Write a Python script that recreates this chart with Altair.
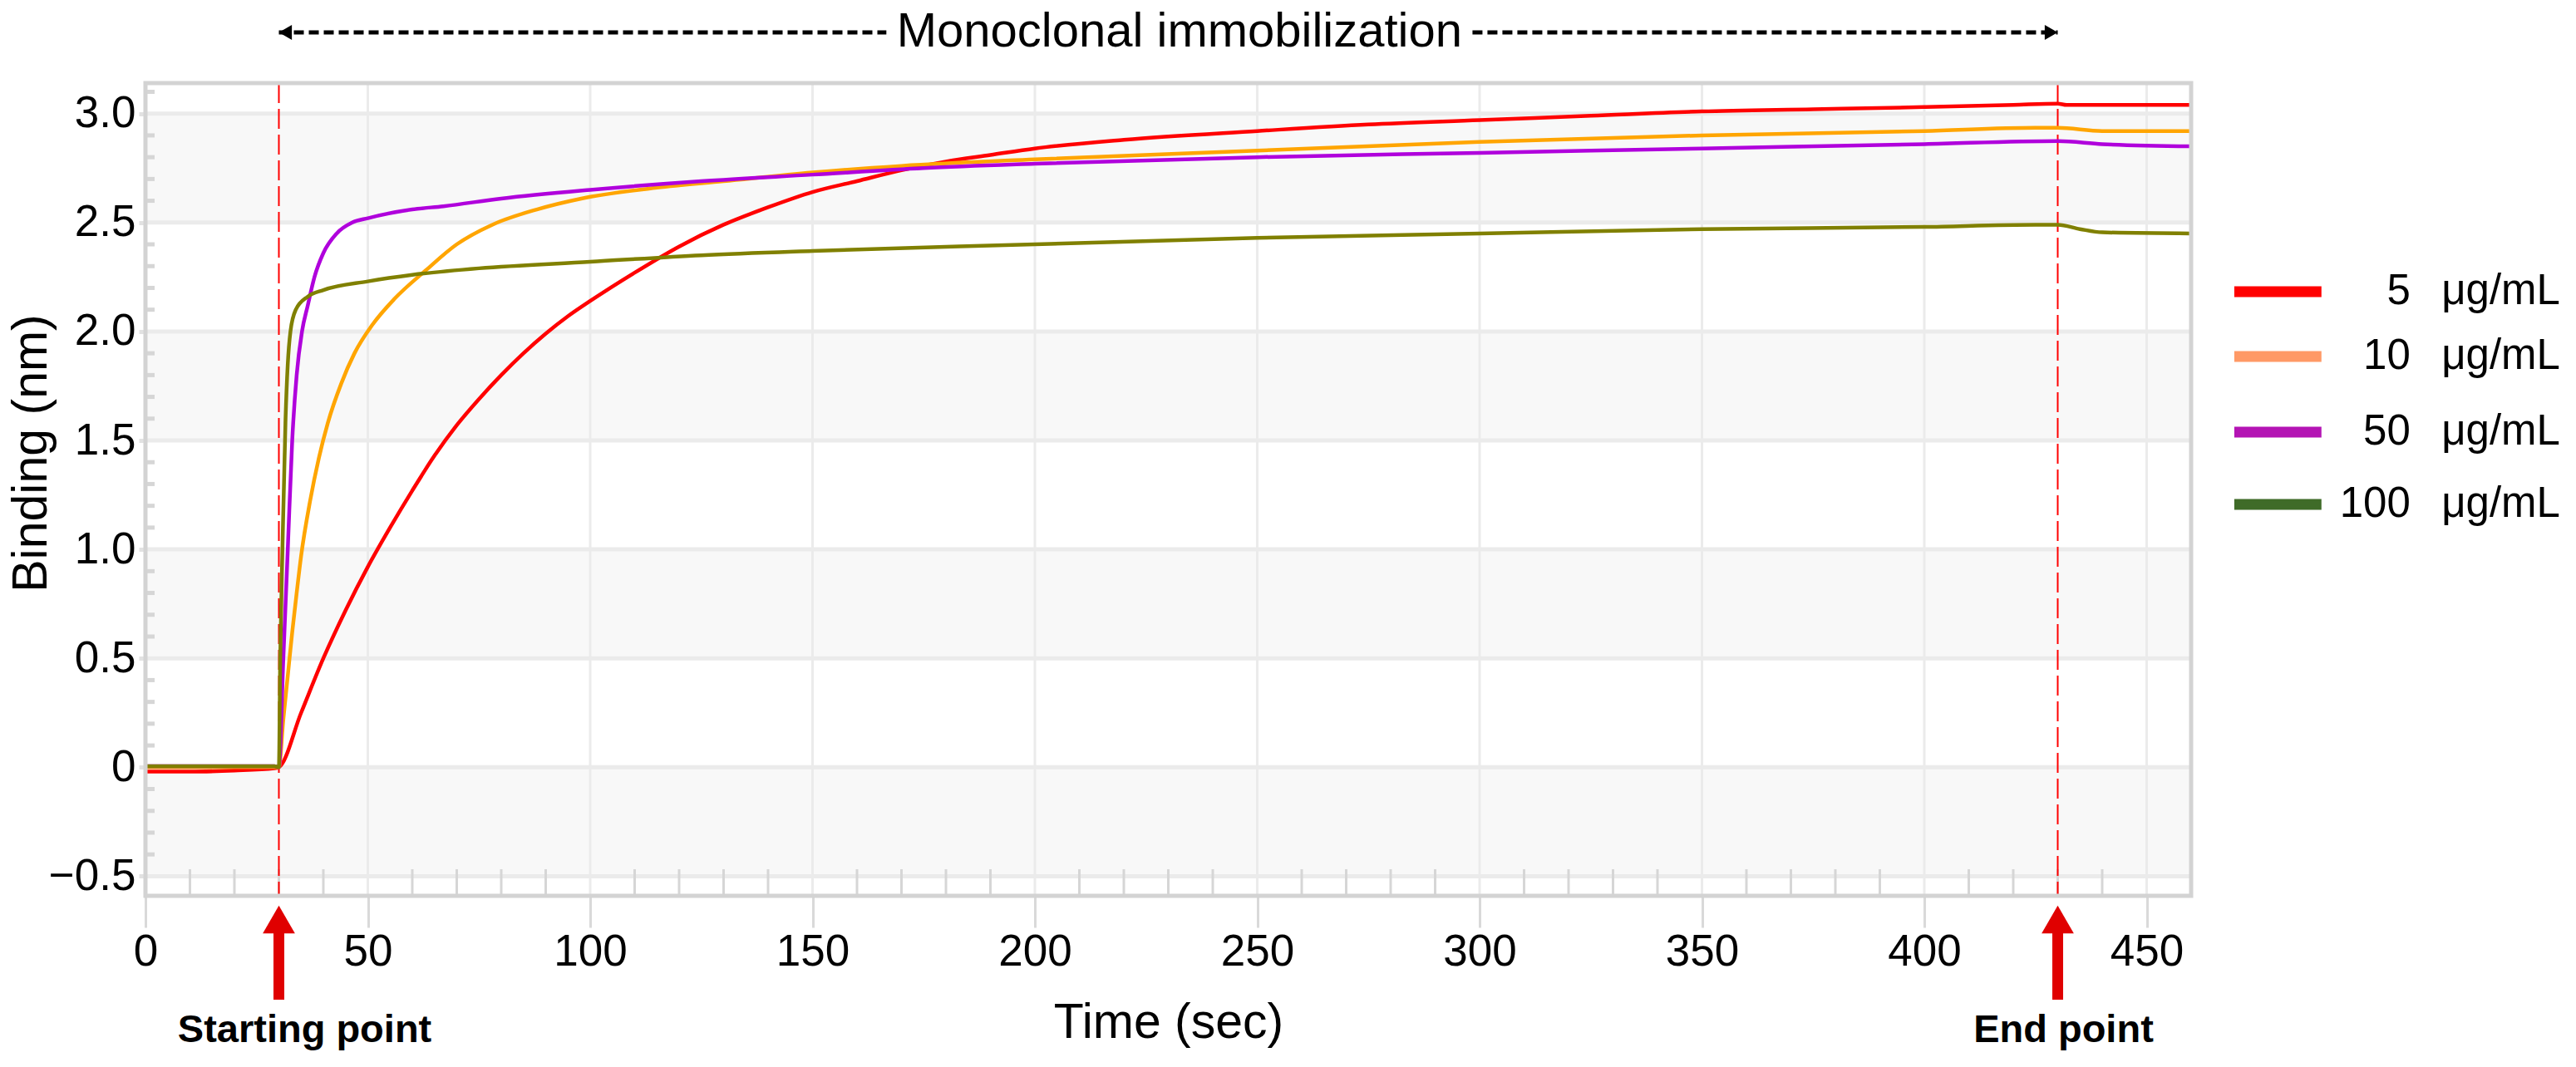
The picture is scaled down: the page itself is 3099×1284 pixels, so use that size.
import altair as alt
import pandas as pd

# ---------------- data ----------------
SERIES = ["5", "10", "50", "100"]
UNIT = "\u03bcg/mL"
LINE_COLORS = ["#ff0000", "#ffa500", "#b000dc", "#808000"]
LEGEND_COLORS = ["#ff0000", "#ff9966", "#b414b4", "#3f6b28"]

T_5 = [0, 10, 20, 29, 30, 35, 40, 45, 50, 55, 60, 65, 70, 75, 80, 85, 90, 95, 100, 110, 120,
       130, 140, 150, 160, 170, 180, 190, 200, 220, 250, 275, 300, 325, 350, 375, 400, 420, 430, 432, 460]
B_5 = [-0.02, -0.02, -0.015, -0.005, 0.0, 0.25, 0.5, 0.72, 0.92, 1.1, 1.27, 1.43, 1.57, 1.69,
       1.8, 1.9, 1.99, 2.07, 2.14, 2.27, 2.39, 2.49, 2.57, 2.64, 2.69, 2.74, 2.78, 2.81, 2.84, 2.88,
       2.92, 2.95, 2.97, 2.99, 3.01, 3.02, 3.03, 3.04, 3.046, 3.04, 3.04]

T_10 = [0, 29, 30, 31, 32, 33, 34, 35, 37, 39, 41, 44, 47, 51, 56, 63, 70, 78, 88, 98, 115, 130,
        150, 170, 200, 250, 300, 350, 400, 425, 430, 440, 460]
B_10 = [0.0, 0.0, 0.0, 0.22, 0.42, 0.62, 0.8, 0.97, 1.22, 1.42, 1.58, 1.76, 1.9, 2.03, 2.15, 2.28,
        2.4, 2.49, 2.56, 2.61, 2.66, 2.69, 2.73, 2.76, 2.79, 2.83, 2.87, 2.9, 2.92, 2.935, 2.935,
        2.92, 2.92]

T_50 = [0, 29, 30, 31, 32, 33, 34, 35.2, 36.5, 38, 40, 43, 46.5, 50, 60, 67, 80, 100, 125, 150, 175,
        200, 250, 300, 350, 400, 430, 440, 460]
B_50 = [0.005, 0.005, 0.0, 0.5, 1.0, 1.5, 1.8, 2.0, 2.12, 2.25, 2.36, 2.45, 2.5, 2.52, 2.56, 2.575,
        2.61, 2.65, 2.69, 2.72, 2.75, 2.77, 2.8, 2.82, 2.84, 2.86, 2.874, 2.86, 2.85]

T_100 = [0, 29, 30, 30.3, 30.8, 31.5, 32, 32.6, 33.8, 36.5, 40, 50, 60, 75, 100, 125, 150, 200, 250,
         300, 350, 400, 425, 430, 435, 440, 460]
B_100 = [0.005, 0.005, 0.0, 0.5, 1.0, 1.6, 1.85, 2.0, 2.1, 2.16, 2.19, 2.23, 2.26, 2.29, 2.32, 2.35,
         2.37, 2.4, 2.43, 2.45, 2.47, 2.48, 2.49, 2.49, 2.47, 2.455, 2.45]

X_TICKS = [0, 50, 100, 150, 200, 250, 300, 350, 400, 450]
Y_TICKS = [-0.5, 0, 0.5, 1.0, 1.5, 2.0, 2.5, 3.0]
X_MINOR = [10, 20, 30, 40, 60, 70, 80, 90, 110, 120, 130, 140, 160, 170, 180, 190, 210, 220, 230, 240,
           260, 270, 280, 290, 310, 320, 330, 340, 360, 370, 380, 390, 410, 420, 430, 440]
Y_MINOR = [-0.4, -0.3, -0.2, -0.1, 0.1, 0.2, 0.3, 0.4, 0.6, 0.7, 0.8, 0.9, 1.1, 1.2, 1.3, 1.4,
           1.6, 1.7, 1.8, 1.9, 2.1, 2.2, 2.3, 2.4, 2.6, 2.7, 2.8, 2.9, 3.1]
BAND_LO = [-0.5, 0.5, 1.5, 2.5]
BAND_HI = [0.0, 1.0, 2.0, 3.0]
MARKERS = [30, 430]
MARKER_LABELS = ["Starting point", "End point"]

# annotation anchors (data units)
X_MIN, X_MAX = 0, 460
Y_MIN, Y_MAX = -0.59, 3.14
TOP_Y = 3.373
TOP_TEXT_X = 232.5
TOP_LEFT_END = 166.6
TOP_RIGHT_START = 298.4
HEAD_Y = -0.699
SHAFT_TOP, SHAFT_BOTTOM = -0.75, -1.067
LABEL_Y = -1.208
LABEL_X = [35.8, 431.3]
# legend anchors (data units, outside the plotted domain)
LEG_Y = [2.183, 1.885, 1.538, 1.206]
LEG_X0, LEG_X1 = 469.7, 489.3
LEG_NUM_X = 509.3
LEG_UNIT_X = 516.3

FONT = "Liberation Sans"
W, H = 2461, 978

# ---------------- tables ----------------
rows = []
for lab, ts, bs in zip(SERIES, [T_5, T_10, T_50, T_100], [B_5, B_10, B_50, B_100]):
    for t, b in zip(ts, bs):
        rows.append({"series": lab, "t": t, "v": b})
lines_df = pd.DataFrame(rows)
legend_df = pd.DataFrame({"series": SERIES, "v": LEG_Y, "t": [LEG_X0] * 4, "t2": [LEG_X1] * 4,
                          "tn": [LEG_NUM_X] * 4, "tu": [LEG_UNIT_X] * 4, "unit": [UNIT] * 4})
bands_df = pd.DataFrame({"lo": BAND_LO, "hi": BAND_HI})
xt_df = pd.DataFrame({"t": X_TICKS})
yt_df = pd.DataFrame({"v": Y_TICKS})
xm_df = pd.DataFrame({"t": X_MINOR})
ym_df = pd.DataFrame({"v": Y_MINOR})
mk_df = pd.DataFrame({"t": MARKERS, "lx": LABEL_X, "label": MARKER_LABELS,
                      "hy": [HEAD_Y] * 2, "s1": [SHAFT_TOP] * 2, "s2": [SHAFT_BOTTOM] * 2,
                      "ly": [LABEL_Y] * 2})
top_seg_df = pd.DataFrame({"t": [MARKERS[0], TOP_RIGHT_START], "b": [TOP_LEFT_END, MARKERS[1]],
                           "v": [TOP_Y, TOP_Y]})
top_txt_df = pd.DataFrame({"t": [TOP_TEXT_X], "v": [TOP_Y], "label": ["Monoclonal immobilization"]})
top_head_l = pd.DataFrame({"t": [MARKERS[0]], "v": [TOP_Y]})
top_head_r = pd.DataFrame({"t": [MARKERS[1]], "v": [TOP_Y]})
one_df = pd.DataFrame({"k": [0]})

xs = alt.Scale(domain=[X_MIN, X_MAX], nice=False, zero=False)
ys = alt.Scale(domain=[Y_MIN, Y_MAX], nice=False, zero=False)

x_axis = alt.Axis(values=X_TICKS, format="d", grid=False, domain=False, tickSize=38, tickWidth=3,
                  tickColor="#d9d9d9", labelFontSize=53, labelFont=FONT, labelColor="black",
                  labelPadding=3, labelFlush=False, labelOverlap=False, title="Time (sec)",
                  titleFontSize=59, titleFont=FONT, titleFontWeight="normal", titleColor="black",
                  titleY=152, titleBaseline="middle")
y_axis = alt.Axis(values=Y_TICKS, grid=False, domain=False, tickSize=8, tickWidth=5,
                  tickColor="#e2e2e2", labelFontSize=53, labelFont=FONT, labelColor="black",
                  labelPadding=4, labelFlush=False, labelOverlap=False,
                  labelExpr="datum.value == 0 ? '0' : format(datum.value, '.1f')",
                  title="Binding (nm)", titleFontSize=59, titleFont=FONT, titleFontWeight="normal",
                  titleColor="black", titleX=-138, titleY=445, titleBaseline="middle")


def X(f):
    return alt.X(f, type="quantitative", scale=xs, axis=x_axis, title="Time (sec)")


def Y(f):
    return alt.Y(f, type="quantitative", scale=ys, axis=y_axis, title="Binding (nm)")


bands = alt.Chart(bands_df).mark_rect(color="#f8f8f8").encode(y=Y("lo"), y2="hi:Q")

xgrid = alt.Chart(xt_df).mark_rule(color="#ebebeb", strokeWidth=3).encode(x=X("t"))
ygrid = alt.Chart(yt_df).mark_rule(color="#ebebeb", strokeWidth=5).encode(y=Y("v"))

xminor = alt.Chart(xm_df).mark_rule(color="#d6d6d6", strokeWidth=3).encode(
    x=X("t"), y=alt.value(H - 32), y2=alt.value(H))
yminor = alt.Chart(ym_df).mark_rule(color="#d6d6d6", strokeWidth=5).encode(
    y=Y("v"), x=alt.value(0), x2=alt.value(11))

markers = alt.Chart(mk_df).mark_rule(color="#ff0000", strokeWidth=2, strokeDash=[24, 7]).encode(
    x=X("t"))

curves = alt.Chart(lines_df).mark_line(strokeWidth=4.5, interpolate="monotone").encode(
    x=X("t"), y=Y("v"),
    color=alt.Color("series:N", scale=alt.Scale(domain=SERIES, range=LINE_COLORS), legend=None),
    detail="series:N")

# legend drawn from the legend table through the same scales
leg_sym = alt.Chart(legend_df).mark_rule(strokeWidth=13, strokeCap="butt").encode(
    x=X("t"), x2="t2:Q", y=Y("v"),
    color=alt.Color("series:N", scale=alt.Scale(domain=SERIES, range=LEGEND_COLORS), legend=None))
leg_num = alt.Chart(legend_df).mark_text(fontSize=51, font=FONT, color="black", align="right",
                                         baseline="middle").encode(
    x=X("tn"), y=Y("v"), text="series:N")
leg_unit = alt.Chart(legend_df).mark_text(fontSize=51, font=FONT, color="black", align="left",
                                          baseline="middle").encode(
    x=X("tu"), y=Y("v"), text="unit:N")

frame = alt.Chart(one_df).mark_rect(filled=False, stroke="#d3d3d3", strokeWidth=5).encode(
    x=alt.value(0), x2=alt.value(W), y=alt.value(0), y2=alt.value(H))

top_segs = alt.Chart(top_seg_df).mark_rule(color="black", strokeWidth=5, strokeDash=[12, 6]).encode(
    x=X("t"), x2="b:Q", y=Y("v"))
top_l = alt.Chart(top_head_l).mark_point(shape="triangle-left", size=324, filled=True, color="black",
                                         opacity=1, xOffset=7.8).encode(x=X("t"), y=Y("v"))
top_r = alt.Chart(top_head_r).mark_point(shape="triangle-right", size=324, filled=True, color="black",
                                         opacity=1, xOffset=-7.8).encode(x=X("t"), y=Y("v"))
top_txt = alt.Chart(top_txt_df).mark_text(fontSize=58, font=FONT, color="black", baseline="middle",
                                          align="center").encode(x=X("t"), y=Y("v"), text="label:N")

shafts = alt.Chart(mk_df).mark_rule(color="#e00000", strokeWidth=13).encode(
    x=X("t"), y=Y("s1"), y2="s2:Q")
heads = alt.Chart(mk_df).mark_point(shape="triangle-up", size=1500, filled=True, color="#e00000",
                                    opacity=1).encode(x=X("t"), y=Y("hy"))
mk_text = alt.Chart(mk_df).mark_text(fontSize=47, font=FONT, fontWeight="bold", color="black",
                                     baseline="middle", align="center").encode(
    x=X("lx"), y=Y("ly"), text="label:N")

chart = alt.layer(
    bands, xgrid, ygrid, xminor, yminor, markers, curves, frame,
    leg_sym, leg_num, leg_unit,
    top_segs, top_l, top_r, top_txt, shafts, heads, mk_text
).resolve_scale(color="independent").properties(
    width=W, height=H,
    padding={"left": 175, "top": 100, "right": 463, "bottom": 206},
    autosize=alt.AutoSizeParams(type="none"),
    background="white",
).configure_view(stroke=None)

chart.save("out.html", embed_options={"renderer": "svg", "actions": False})
